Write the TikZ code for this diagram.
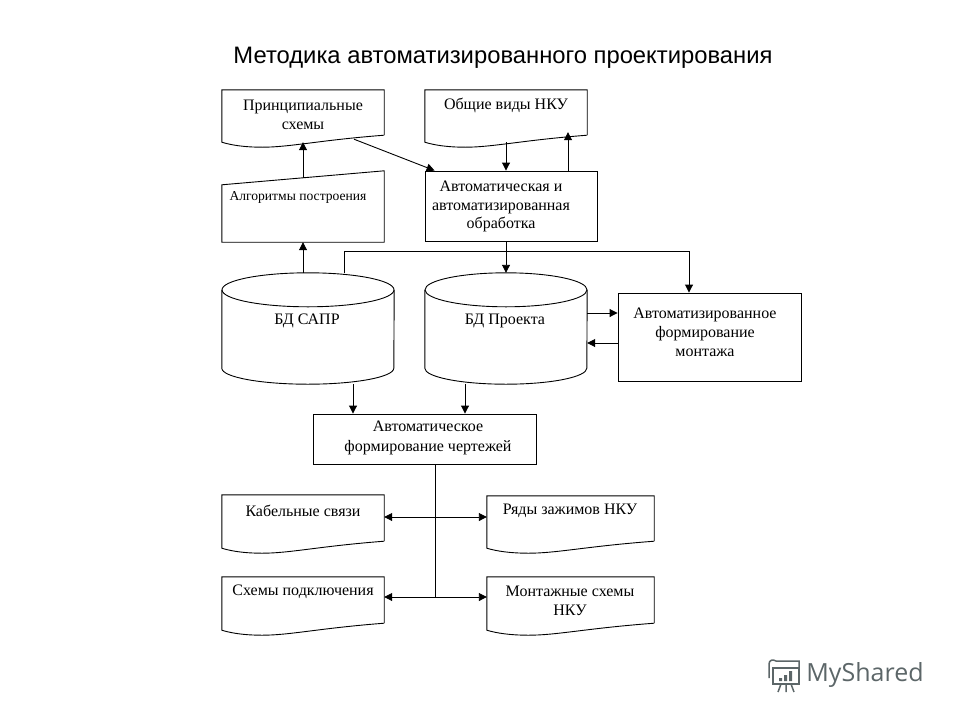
\documentclass[tikz,border=0pt]{standalone}
\usepackage{fontspec}
\setmainfont{Liberation Serif}
\newfontfamily\titlefont{Liberation Sans}
\newfontfamily\logofont{Open Sans}
\usetikzlibrary{arrows.meta, calc}
\definecolor{logogray}{HTML}{5c6668}
\tikzstyle{process} = [rectangle, inner sep=0pt, draw=black, line width=0.9pt]
\tikzstyle{outline} = [rectangle, inner sep=0pt]
\tikzstyle{txt} = [align=center, inner sep=0pt, font=\fontsize{16}{18.8}\selectfont]
\tikzstyle{arrow} = [line width=0.9pt,->,>={Triangle[length=8pt,width=8pt]}]
\newcommand{\docshape}[1]{
    \draw[line width=0.9pt] ([yshift=7pt]#1.south east) -- (#1.north east) -- (#1.north west) -- (#1.south west)
        .. controls ($(#1.south west)!.06!(#1.south east)+(0,3)$) and ($(#1.south west)!.14!(#1.south east)+(0,5)$) .. ($(#1.south west)!.25!(#1.south east)+(0,5)$)
        .. controls ($(#1.south west)!.42!(#1.south east)+(0,5)$) and ($(#1.south west)!.6!(#1.south east)+(0,-2)$) .. ([yshift=7pt]#1.south east);
}
\newcommand{\dbshape}[2]{
    \draw[line width=0.9pt] ([yshift=-17pt]#1.north) ellipse [x radius=#2pt, y radius=17pt];
    \draw[line width=0.9pt] ([yshift=-17pt]#1.north west) -- ([yshift=16pt]#1.south west)
        arc [start angle=180, end angle=360, x radius=#2pt, y radius=16pt] -- ([yshift=-17pt]#1.north east);
}

\begin{document}
\begin{tikzpicture}[x=1pt,y=-1pt]
    \useasboundingbox (0,0) rectangle (960,720);
    \node (title) [font=\titlefont\fontsize{23.8}{28}\selectfont] at (503,58) {Методика автоматизированного проектирования};

    \node (princ) [outline, minimum width=162pt, minimum height=52pt] at (303,116) {};
    \node (general) [outline, minimum width=162pt, minimum height=52pt] at (506,116) {};
    \node (algo) [outline, minimum width=162pt, minimum height=64pt] at (303,210) {};
    \node (auto) [process, minimum width=172pt, minimum height=70pt] at (511,206) {};
    \node (sapr) [outline, minimum width=172pt, minimum height=111pt] at (308,328.5) {};
    \node (proj) [outline, minimum width=162pt, minimum height=111pt] at (506,328.5) {};
    \node (mont) [process, minimum width=183pt, minimum height=88pt] at (709.5,337) {};
    \node (form) [process, minimum width=223pt, minimum height=50pt] at (424.5,439) {};
    \node (cab) [outline, minimum width=162pt, minimum height=53pt] at (303,521.5) {};
    \node (ryad) [outline, minimum width=167pt, minimum height=52pt] at (570.5,522) {};
    \node (conn) [outline, minimum width=162pt, minimum height=53pt] at (303,603.5) {};
    \node (mshem) [outline, minimum width=167pt, minimum height=53pt] at (570.5,603.5) {};
    \coordinate (trunk) at (435,597);

    \docshape{princ}
    \docshape{general}
    \docshape{cab}
    \docshape{ryad}
    \docshape{conn}
    \docshape{mshem}
    \dbshape{sapr}{86}
    \dbshape{proj}{81}
    \draw[line width=0.9pt] ([yshift=-7pt]algo.north west) -- ([yshift=7pt]algo.north east) -- (algo.south east) -- (algo.south west) -- cycle;

    \node (princtxt) [txt] at (303,114.5) {Принципиальные\\схемы};
    \node (generaltxt) [txt] at (506,105.5) {Общие виды НКУ};
    \node (algotxt) [txt, font=\fontsize{13.6}{18}\selectfont] at (298,197.5) {Алгоритмы построения};
    \node (autotxt) [txt] at (501,206.5) {Автоматическая и\\автоматизированная\\обработка};
    \node (saprtxt) [txt] at (307,320.5) {БД САПР};
    \node (projtxt) [txt] at (505,320.5) {БД Проекта};
    \node (monttxt) [txt] at (705,332.5) {Автоматизированное\\формирование\\монтажа};
    \node (formtxt) [txt, font=\fontsize{16}{20}\selectfont] at (428,438) {Автоматическое\\формирование чертежей};
    \node (cabtxt) [txt] at (303,510.5) {Кабельные связи};
    \node (ryadtxt) [txt] at (570,510.5) {Ряды зажимов НКУ};
    \node (conntxt) [txt] at (303,591.5) {Схемы подключения};
    \node (mshemtxt) [txt] at (570,600.5) {Монтажные схемы\\НКУ};

    \draw[arrow] (algo.north) -- (princ.south);
    \draw[arrow] ([xshift=-5pt]sapr.north) -- (algo.south);
    \draw[arrow] ([xshift=51pt,yshift=3pt]princ.south) -- ([xshift=10pt]auto.north west);
    \draw[arrow] (general.south) -- (general.south |- auto.north);
    \draw[arrow] ([xshift=57pt]auto.north) -- ([xshift=62pt,yshift=10pt]general.south);
    \draw[arrow] (proj.north |- auto.south) -- (proj.north);
    \draw[arrow] ([xshift=36pt]sapr.north) -- ++(0,-21) -| ([xshift=-20.5pt]mont.north);
    \draw[arrow] ([yshift=15.5pt]proj.east) -- ([yshift=24pt]mont.west);
    \draw[arrow] ([yshift=-6pt]mont.west) -- ([yshift=-14.5pt]proj.east);
    \draw[arrow] ([xshift=45pt]sapr.south) -- ([xshift=-71.5pt]form.north);
    \draw[arrow] ([xshift=-41pt]proj.south) -- ([xshift=40.5pt]form.north);
    \draw[line width=0.9pt] ([xshift=10.5pt]form.south) -- (trunk);
    \draw[arrow, <->] ([yshift=4.5pt]cab.east) -- ([yshift=5pt]ryad.west);
    \draw[arrow, <->] ([yshift=6.5pt]conn.east) -- ([yshift=6.5pt]mshem.west);

    \node (logotxt) [text=logogray, font=\logofont\fontsize{25}{30}\selectfont, inner sep=0pt] at (865,675) {MyShared};
    \draw[logogray, line width=1.5pt] (773,668) rectangle (799,684);
    \draw[logogray, line width=1.5pt] (769,678) -- (769,664) .. controls (769,660) and (773,659) .. (776,661) -- (799,661) -- (799,668) -- (773,668);
    \fill[logogray] (779,678) rectangle (782,681) (784,675) rectangle (787,681) (789,671) rectangle (792,681);
    \draw[logogray, line width=1.5pt] (781,684) -- (778,692) (786,684) -- (786,692) (791,684) -- (794,692);
\end{tikzpicture}
\end{document}
